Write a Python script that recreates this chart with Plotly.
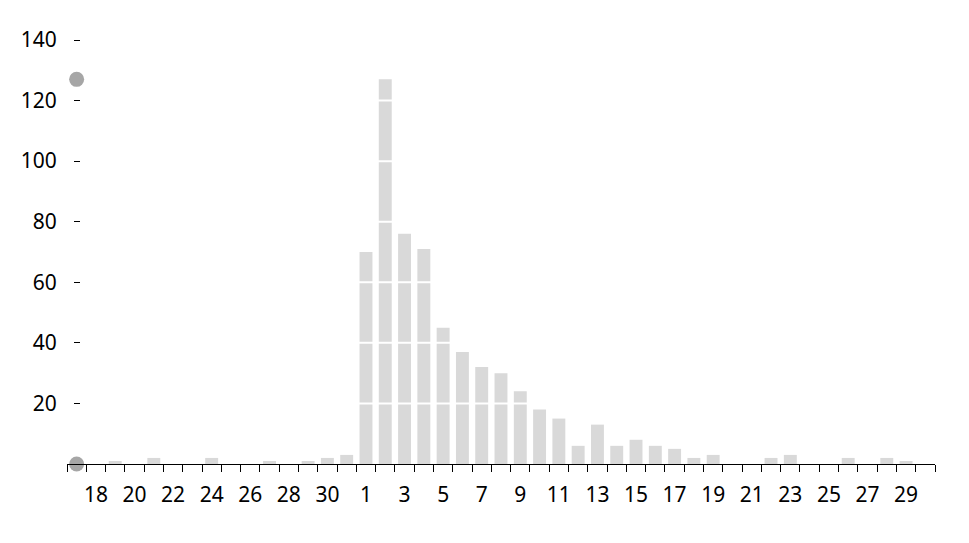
import plotly.graph_objects as go

# дни: конец прошлого месяца (17-31) и следующий месяц (1-30)
days = list(range(17, 32)) + list(range(1, 31))
counts = [0, 0, 1, 0, 2, 0, 0, 2, 0, 0, 1, 0, 1, 2, 3,
          70, 127, 76, 71, 45, 37, 32, 30, 24, 18, 15, 6, 13, 6, 8,
          6, 5, 2, 3, 0, 0, 2, 3, 0, 0, 2, 0, 2, 1, 0]
y_ticks = [20, 40, 60, 80, 100, 120, 140]

idx = list(range(len(days)))
label_idx = idx[1::2]
label_txt = [str(days[i]) for i in label_idx]

W, H = 969, 543
ml, mr, mt, mb = 59, 42, 32, 87
plot_w = W - ml - mr

fig = go.Figure()
fig.add_trace(go.Bar(x=idx, y=counts, marker_color='#d9d9d9',
                     marker_line_width=0, hoverinfo='y'))
# точки минимума и максимума у оси
fig.add_trace(go.Scatter(x=[0, 0], y=[min(counts), max(counts)], mode='markers',
                         marker=dict(size=15, color='#a6a6a6'),
                         cliponaxis=False, hoverinfo='y'))

# белые линии сетки поверх столбцов
for v in y_ticks[:-1]:
    fig.add_shape(type='line', xref='x', yref='y', x0=0.5, x1=len(days) - 0.5,
                  y0=v, y1=v, line=dict(color='white', width=2), layer='above')

fig.update_layout(
    width=W, height=H,
    margin=dict(l=ml, r=mr, t=mt, b=mb),
    plot_bgcolor='white', paper_bgcolor='white',
    showlegend=False, bargap=0.33,
    font=dict(family='Noto Sans', size=21, color='black'),
    xaxis=dict(range=[-0.5, len(days) - 0.5], tickvals=label_idx, ticktext=label_txt,
               ticks='', showgrid=False, zeroline=False,
               showline=True, linecolor='black', linewidth=1,
               minor=dict(ticks='outside', tick0=0.5, dtick=1, ticklen=7,
                          tickcolor='black', showgrid=False),
               ticklabelstandoff=12),
    yaxis=dict(range=[0, 140], tickvals=y_ticks, showgrid=False, zeroline=False,
               showline=False, ticks='outside', ticklen=6, tickcolor='black',
               anchor='free', position=(72 - ml) / plot_w,
               ticklabelstandoff=13),
)

fig.write_html("out.html")
